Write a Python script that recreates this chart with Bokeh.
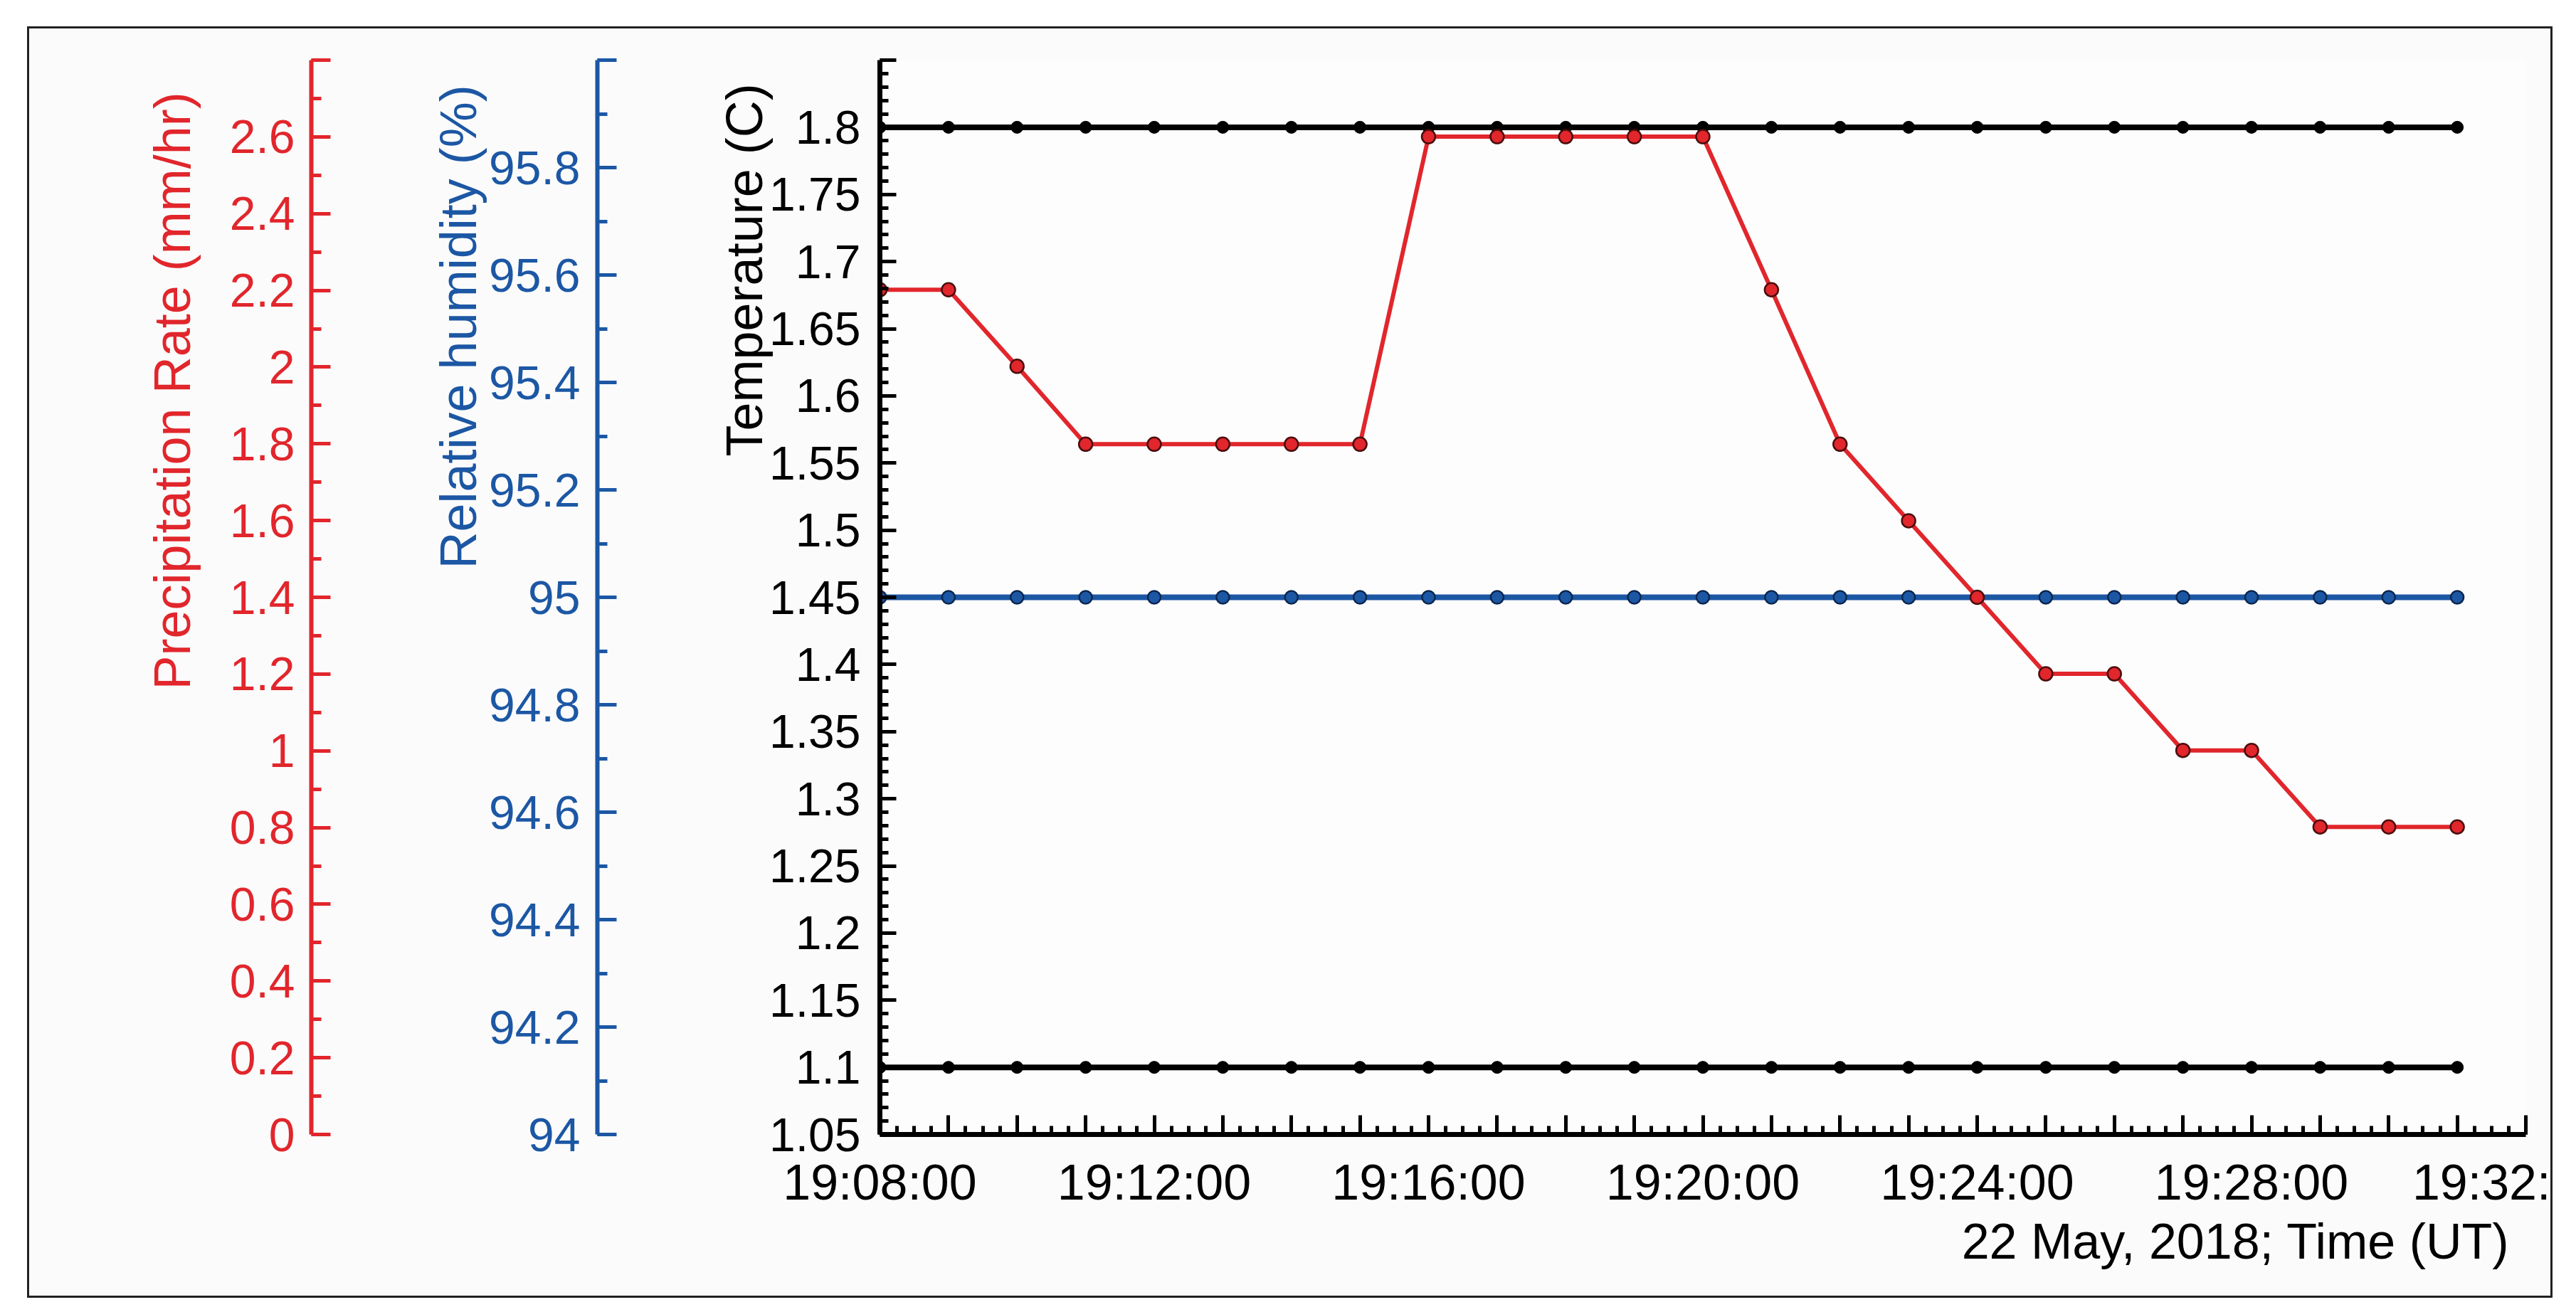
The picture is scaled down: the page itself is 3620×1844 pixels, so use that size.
import numpy as np
from bokeh.plotting import figure
from bokeh.models import LinearAxis, Range1d, FixedTicker
from bokeh.embed import file_html
from bokeh.resources import INLINE

# ---------------- data ----------------
times = ["19:08", "19:09", "19:10", "19:11", "19:12", "19:13", "19:14", "19:15",
         "19:16", "19:17", "19:18", "19:19", "19:20", "19:21", "19:22", "19:23",
         "19:24", "19:25", "19:26", "19:27", "19:28", "19:29", "19:30", "19:31"]
temperature = [1.679, 1.679, 1.622, 1.564, 1.564, 1.564, 1.564, 1.564,
               1.793, 1.793, 1.793, 1.793, 1.793, 1.679, 1.564, 1.507,
               1.450, 1.393, 1.393, 1.336, 1.336, 1.279, 1.279, 1.279]
temp_upper = [1.8, 1.8, 1.8, 1.8, 1.8, 1.8, 1.8, 1.8, 1.8, 1.8, 1.8, 1.8,
              1.8, 1.8, 1.8, 1.8, 1.8, 1.8, 1.8, 1.8, 1.8, 1.8, 1.8, 1.8]
temp_lower = [1.1, 1.1, 1.1, 1.1, 1.1, 1.1, 1.1, 1.1, 1.1, 1.1, 1.1, 1.1,
              1.1, 1.1, 1.1, 1.1, 1.1, 1.1, 1.1, 1.1, 1.1, 1.1, 1.1, 1.1]
humidity = [95.0, 95.0, 95.0, 95.0, 95.0, 95.0, 95.0, 95.0, 95.0, 95.0, 95.0, 95.0,
            95.0, 95.0, 95.0, 95.0, 95.0, 95.0, 95.0, 95.0, 95.0, 95.0, 95.0, 95.0]

x_tick_times = ["19:08", "19:09", "19:10", "19:11", "19:12", "19:13", "19:14",
                "19:15", "19:16", "19:17", "19:18", "19:19", "19:20", "19:21",
                "19:22", "19:23", "19:24", "19:25", "19:26", "19:27", "19:28",
                "19:29", "19:30", "19:31", "19:32"]
# the last label is cut by the figure border in the original
x_label_times = ["19:08:00", "19:12:00", "19:16:00", "19:20:00",
                 "19:24:00", "19:28:00", "19:32:"]

temp_ticks = [1.05, 1.1, 1.15, 1.2, 1.25, 1.3, 1.35, 1.4, 1.45, 1.5, 1.55,
              1.6, 1.65, 1.7, 1.75, 1.8, 1.85]
temp_tick_labels = ["1.05", "1.1", "1.15", "1.2", "1.25", "1.3", "1.35", "1.4",
                    "1.45", "1.5", "1.55", "1.6", "1.65", "1.7", "1.75", "1.8", ""]
precip_ticks = [0, 0.2, 0.4, 0.6, 0.8, 1.0, 1.2, 1.4, 1.6, 1.8, 2.0, 2.2, 2.4,
                2.6, 2.8]
precip_tick_labels = ["0", "0.2", "0.4", "0.6", "0.8", "1", "1.2", "1.4", "1.6",
                      "1.8", "2", "2.2", "2.4", "2.6", ""]
rh_ticks = [94.0, 94.2, 94.4, 94.6, 94.8, 95.0, 95.2, 95.4, 95.6, 95.8, 96.0]
rh_tick_labels = ["94", "94.2", "94.4", "94.6", "94.8", "95", "95.2", "95.4",
                  "95.6", "95.8", ""]

title_precip = "Precipitation Rate (mm/hr)"
title_rh = "Relative humidity (%)"
title_temp = "Temperature (C)"
title_x = "22 May, 2018; Time (UT)"


def to_min(t):
    parts = t.split(":")
    return int(parts[0]) * 60 + int(parts[1])


x = [to_min(t) for t in times]
x_ticks = [to_min(t) for t in x_tick_times]
x_overrides = {v: "" for v in x_ticks}
for lab in x_label_times:
    x_overrides[to_min(lab)] = lab
x_minor = list(np.arange(x_ticks[0], x_ticks[-1] + 0.001, 0.25))

RED = "#e1262c"
BLUE = "#1c57a4"
FONT = "Liberation Sans"
YTICK_FS = "66px"
XTICK_FS = "70px"
TITLE_FS = "72px"
NB = "\u00a0"  # non-breaking space used to shift the axis titles along their axis

p = figure(width=3549, height=1787,
           x_range=Range1d(x_ticks[0], x_ticks[-1]),
           y_range=Range1d(1.05, 1.85),
           x_axis_type=None, y_axis_type=None,
           output_backend="svg", toolbar_location=None,
           min_border_left=1195, min_border_right=41,
           min_border_top=44, min_border_bottom=233)
p.extra_y_ranges = {"precip": Range1d(0, 2.8), "rh": Range1d(94, 96)}
p.outline_line_color = None
p.border_fill_color = "#fbfbfb"
p.background_fill_color = "#fdfdfd"
p.margin = (37, 0, 0, 38)
p.styles = {"border": "3px solid #222222"}


def spacer(standoff):
    return LinearAxis(ticker=FixedTicker(ticks=[]), axis_line_color=None,
                      major_tick_line_color=None, minor_tick_line_color=None,
                      major_label_standoff=0, axis_label=".",
                      axis_label_text_alpha=0, axis_label_text_font_size="10px",
                      axis_label_standoff=standoff)


# ---------------- axes ----------------
temp_axis = LinearAxis(
    ticker=FixedTicker(ticks=temp_ticks,
                       minor_ticks=[round(v, 2) for v in np.arange(1.05, 1.8501, 0.01)]),
    major_label_overrides=dict(zip(temp_ticks, temp_tick_labels)),
    axis_line_width=7, axis_line_color="black",
    major_tick_in=23, major_tick_out=0, minor_tick_in=12, minor_tick_out=0,
    major_tick_line_width=5, minor_tick_line_width=5,
    major_tick_line_color="black", minor_tick_line_color="black",
    major_label_text_font_size=YTICK_FS, major_label_text_font=FONT,
    major_label_text_color="black", major_label_standoff=27,
    axis_label=NB * 46 + title_temp, axis_label_text_font=FONT,
    axis_label_text_font_size=TITLE_FS, axis_label_text_font_style="normal",
    axis_label_text_color="black", axis_label_standoff=-8)
p.add_layout(temp_axis, "left")
p.add_layout(spacer(153), "left")

rh_axis = LinearAxis(
    y_range_name="rh",
    ticker=FixedTicker(ticks=rh_ticks,
                       minor_ticks=[round(v, 1) for v in np.arange(94.0, 96.001, 0.1)]),
    major_label_overrides=dict(zip(rh_ticks, rh_tick_labels)),
    axis_line_width=6, axis_line_color=BLUE,
    major_tick_in=27, major_tick_out=0, minor_tick_in=14, minor_tick_out=0,
    major_tick_line_width=5, minor_tick_line_width=5,
    major_tick_line_color=BLUE, minor_tick_line_color=BLUE,
    major_label_text_font_size=YTICK_FS, major_label_text_font=FONT,
    major_label_text_color=BLUE, major_label_standoff=24,
    axis_label=NB * 38 + title_rh, axis_label_text_font=FONT,
    axis_label_text_font_size=TITLE_FS, axis_label_text_font_style="normal",
    axis_label_text_color=BLUE, axis_label_standoff=0)
p.add_layout(rh_axis, "left")
p.add_layout(spacer(153), "left")

precip_axis = LinearAxis(
    y_range_name="precip",
    ticker=FixedTicker(ticks=precip_ticks,
                       minor_ticks=[round(v, 1) for v in np.arange(0, 2.801, 0.1)]),
    major_label_overrides=dict(zip(precip_ticks, precip_tick_labels)),
    axis_line_width=6, axis_line_color=RED,
    major_tick_in=27, major_tick_out=0, minor_tick_in=14, minor_tick_out=0,
    major_tick_line_width=5, minor_tick_line_width=5,
    major_tick_line_color=RED, minor_tick_line_color=RED,
    major_label_text_font_size=YTICK_FS, major_label_text_font=FONT,
    major_label_text_color=RED, major_label_standoff=23,
    axis_label=NB * 29 + title_precip, axis_label_text_font=FONT,
    axis_label_text_font_size=TITLE_FS, axis_label_text_font_style="normal",
    axis_label_text_color=RED, axis_label_standoff=38)
p.add_layout(precip_axis, "left")

x_axis = LinearAxis(
    ticker=FixedTicker(ticks=x_ticks, minor_ticks=x_minor),
    major_label_overrides=x_overrides,
    axis_line_width=7, axis_line_color="black",
    major_tick_in=27, major_tick_out=0, minor_tick_in=12, minor_tick_out=0,
    major_tick_line_width=5, minor_tick_line_width=5,
    major_tick_line_color="black", minor_tick_line_color="black",
    major_label_text_font_size=XTICK_FS, major_label_text_font=FONT,
    major_label_text_color="black", major_label_standoff=28,
    axis_label=NB * 77 + title_x, axis_label_text_font=FONT,
    axis_label_text_font_size="70px", axis_label_text_font_style="normal",
    axis_label_text_color="black", axis_label_standoff=2)
p.add_layout(x_axis, "below")

# ---------------- series ----------------
p.line(x, temp_upper, line_color="black", line_width=8)
p.scatter(x, temp_upper, size=17, fill_color="black", line_color="black")
p.line(x, temp_lower, line_color="black", line_width=8)
p.scatter(x, temp_lower, size=17, fill_color="black", line_color="black")

p.line(x, humidity, y_range_name="rh", line_color=BLUE, line_width=8)
p.scatter(x, humidity, y_range_name="rh", size=18, fill_color=BLUE,
          line_color="#0b2650", line_width=2.5)

p.line(x, temperature, line_color=RED, line_width=6)
p.scatter(x, temperature, size=19, fill_color=RED, line_color="#4a0d0d",
          line_width=2.5)

open("out.html", "w").write(file_html(p, INLINE))
